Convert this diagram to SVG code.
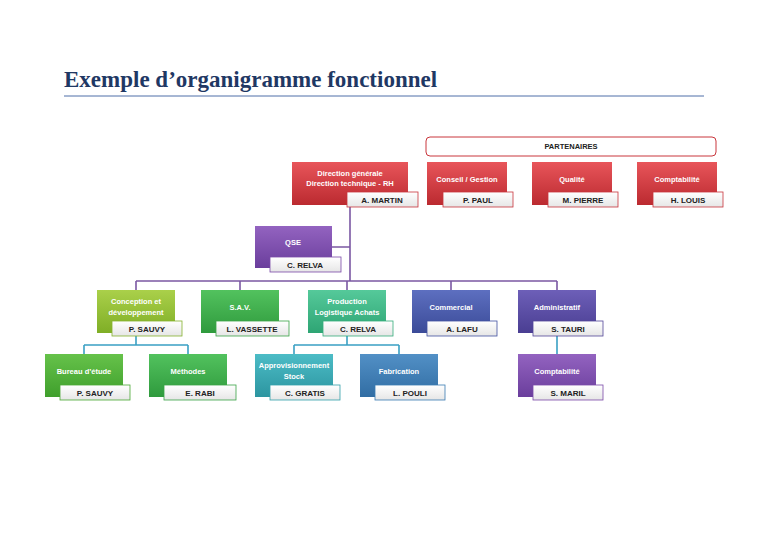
<svg xmlns="http://www.w3.org/2000/svg" width="768" height="543" viewBox="0 0 768 543">
<defs>
<linearGradient id="gR" x1="0" y1="0" x2="0" y2="1"><stop offset="0" stop-color="#e8555a"/><stop offset="1" stop-color="#bb2a30"/></linearGradient>
<linearGradient id="gP" x1="0" y1="0" x2="0" y2="1"><stop offset="0" stop-color="#9363c0"/><stop offset="1" stop-color="#6a3e9c"/></linearGradient>
<linearGradient id="gL" x1="0" y1="0" x2="0" y2="1"><stop offset="0" stop-color="#aad04a"/><stop offset="1" stop-color="#7fae26"/></linearGradient>
<linearGradient id="gG" x1="0" y1="0" x2="0" y2="1"><stop offset="0" stop-color="#52c25e"/><stop offset="1" stop-color="#2f9a3d"/></linearGradient>
<linearGradient id="gT" x1="0" y1="0" x2="0" y2="1"><stop offset="0" stop-color="#55c99a"/><stop offset="1" stop-color="#2ea574"/></linearGradient>
<linearGradient id="gB" x1="0" y1="0" x2="0" y2="1"><stop offset="0" stop-color="#5d6fc0"/><stop offset="1" stop-color="#3b4b98"/></linearGradient>
<linearGradient id="gV" x1="0" y1="0" x2="0" y2="1"><stop offset="0" stop-color="#6d5fb8"/><stop offset="1" stop-color="#4a3e92"/></linearGradient>
<linearGradient id="gG2" x1="0" y1="0" x2="0" y2="1"><stop offset="0" stop-color="#66c24a"/><stop offset="1" stop-color="#3f9f2c"/></linearGradient>
<linearGradient id="gC" x1="0" y1="0" x2="0" y2="1"><stop offset="0" stop-color="#4cbcc6"/><stop offset="1" stop-color="#2c95a0"/></linearGradient>
<linearGradient id="gS" x1="0" y1="0" x2="0" y2="1"><stop offset="0" stop-color="#5290c6"/><stop offset="1" stop-color="#316da3"/></linearGradient>
<linearGradient id="gW" x1="0" y1="0" x2="0" y2="1"><stop offset="0" stop-color="#ffffff"/><stop offset="1" stop-color="#e6e6e6"/></linearGradient>
</defs>
<style>
.t{font-family:"Liberation Sans",Arial,sans-serif;font-size:7.5px;font-weight:bold;fill:#fff;text-anchor:middle}
.n{font-family:"Liberation Sans",Arial,sans-serif;font-size:8px;font-weight:bold;fill:#222;text-anchor:middle}
.tab{fill:url(#gW);stroke-width:0.8}
.box{stroke:none}
.c1{fill:none;stroke:#7b58a3;stroke-width:1.6}
.c2{fill:none;stroke:#3aa0c4;stroke-width:1.6}
</style>
<text x="64" y="87" font-family="Liberation Serif,serif" font-size="23" font-weight="bold" fill="#1f3864">Exemple d’organigramme fonctionnel</text>
<line x1="64" y1="96" x2="704" y2="96" stroke="#4f6fa8" stroke-width="1"/>
<g id="connectors">
<path class="c1" d="M350 207V281M332 247H350M136 281H557M136 281V290M240 281V290M347 281V290M451 281V290M557 281V290"/>
<path class="c2" d="M136 336V345M84 345H188M84 345V354M188 345V354M347 336V345M294 345H399M294 345V354M399 345V354M557 336V354"/>
</g>
<g id="partenaires"><rect x="426" y="137" width="290" height="19" rx="4" fill="#fff" stroke="#c9363c" stroke-width="1"/><text class="n" x="571" y="149" style="font-size:7.5px">PARTENAIRES</text></g>
<g id="direction"><rect class="box" x="292" y="162" width="116" height="43" fill="url(#gR)"/><text class="t" x="350" y="176">Direction générale</text><text class="t" x="350" y="186">Direction technique - RH</text><rect class="tab" x="347" y="192" width="71" height="15" stroke="#c9363c"/><text class="n" x="382" y="203">A. MARTIN</text></g>
<g id="conseil"><rect class="box" x="427" y="162" width="80" height="43" fill="url(#gR)"/><text class="t" x="467" y="182">Conseil / Gestion</text><rect class="tab" x="443" y="192" width="70" height="15" stroke="#c9363c"/><text class="n" x="478" y="203">P. PAUL</text></g>
<g id="qualite"><rect class="box" x="532" y="162" width="80" height="43" fill="url(#gR)"/><text class="t" x="572" y="182">Qualité</text><rect class="tab" x="548" y="192" width="70" height="15" stroke="#c9363c"/><text class="n" x="583" y="203">M. PIERRE</text></g>
<g id="compta1"><rect class="box" x="637" y="162" width="80" height="43" fill="url(#gR)"/><text class="t" x="677" y="182">Comptabilité</text><rect class="tab" x="653" y="192" width="70" height="15" stroke="#c9363c"/><text class="n" x="688" y="203">H. LOUIS</text></g>
<g id="qse"><rect class="box" x="255" y="226" width="77" height="42" fill="url(#gP)"/><text class="t" x="293" y="245">QSE</text><rect class="tab" x="270" y="257" width="71" height="15" stroke="#7b4aa8"/><text class="n" x="305" y="268">C. RELVA</text></g>
<g id="conception"><rect class="box" x="97" y="290" width="78" height="43" fill="url(#gL)"/><text class="t" x="136" y="304">Conception et</text><text class="t" x="136" y="315">développement</text><rect class="tab" x="112" y="321" width="70" height="15" stroke="#86b22e"/><text class="n" x="147" y="332">P. SAUVY</text></g>
<g id="sav"><rect class="box" x="201" y="290" width="78" height="43" fill="url(#gG)"/><text class="t" x="240" y="310">S.A.V.</text><rect class="tab" x="216" y="321" width="73" height="15" stroke="#3aa447"/><text class="n" x="252" y="332">L. VASSETTE</text></g>
<g id="production"><rect class="box" x="308" y="290" width="78" height="43" fill="url(#gT)"/><text class="t" x="347" y="304">Production</text><text class="t" x="347" y="315">Logistique Achats</text><rect class="tab" x="323" y="321" width="70" height="15" stroke="#35ad7c"/><text class="n" x="358" y="332">C. RELVA</text></g>
<g id="commercial"><rect class="box" x="412" y="290" width="78" height="43" fill="url(#gB)"/><text class="t" x="451" y="310">Commercial</text><rect class="tab" x="427" y="321" width="70" height="15" stroke="#4252a0"/><text class="n" x="462" y="332">A. LAFU</text></g>
<g id="administratif"><rect class="box" x="518" y="290" width="78" height="43" fill="url(#gV)"/><text class="t" x="557" y="310">Administratif</text><rect class="tab" x="533" y="321" width="70" height="15" stroke="#53479a"/><text class="n" x="568" y="332">S. TAURI</text></g>
<g id="bureau"><rect class="box" x="45" y="354" width="78" height="43" fill="url(#gG2)"/><text class="t" x="84" y="374">Bureau d’étude</text><rect class="tab" x="60" y="385" width="70" height="15" stroke="#4aa834"/><text class="n" x="95" y="396">P. SAUVY</text></g>
<g id="methodes"><rect class="box" x="149" y="354" width="78" height="43" fill="url(#gG)"/><text class="t" x="188" y="374">Méthodes</text><rect class="tab" x="164" y="385" width="72" height="15" stroke="#3aa447"/><text class="n" x="200" y="396">E. RABI</text></g>
<g id="appro"><rect class="box" x="255" y="354" width="78" height="43" fill="url(#gC)"/><text class="t" x="294" y="368">Approvisionnement</text><text class="t" x="294" y="379">Stock</text><rect class="tab" x="270" y="385" width="70" height="15" stroke="#33a0aa"/><text class="n" x="305" y="396">C. GRATIS</text></g>
<g id="fabrication"><rect class="box" x="360" y="354" width="78" height="43" fill="url(#gS)"/><text class="t" x="399" y="374">Fabrication</text><rect class="tab" x="375" y="385" width="70" height="15" stroke="#3a7cb2"/><text class="n" x="410" y="396">L. POULI</text></g>
<g id="compta2"><rect class="box" x="518" y="354" width="78" height="43" fill="url(#gP)"/><text class="t" x="557" y="374">Comptabilité</text><rect class="tab" x="533" y="385" width="70" height="15" stroke="#7b4aa8"/><text class="n" x="568" y="396">S. MARIL</text></g>
</svg>
